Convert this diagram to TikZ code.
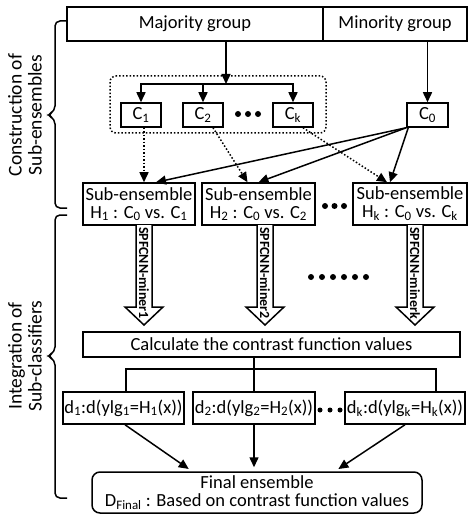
\documentclass[tikz,border=0pt]{standalone}
\usepackage{fontspec}
\setmainfont{Carlito}
\usetikzlibrary{arrows.meta}
\newcommand{\lo}[1]{\textsubscript{#1}}
\tikzset{
  box/.style={draw, line width=1.5pt, inner sep=0pt, align=center,
    font=\fontsize{18.5}{18}\selectfont},
  arr/.style={line width=1.5pt, -{Triangle[length=10pt,width=9pt]}},
  dotarr/.style={arr, dotted},
  hollow/.style={draw, line width=1.5pt, fill=white},
  miner/.style={rotate=-90, inner sep=0pt, font=\fontsize{14}{14}\bfseries},
  grpbrace/.style={line width=1.5pt, rounded corners=5pt},
  side/.style={rotate=90, align=center, font=\fontsize{19.5}{20}\selectfont},
}
\begin{document}
\begin{tikzpicture}[x=1pt, y=-1pt]
\useasboundingbox (0,0) rectangle (474,521);
% groups
\node[box, minimum width=256, minimum height=34] (maj) at (195,24) {Majority group};
\node[box, minimum width=144, minimum height=34] (min) at (395,24) {Minority group};
\node[draw, dotted, line width=1.5pt, rounded corners=6pt, minimum width=216,
  minimum height=57] (grp) at (218,104.5) {};
\node[box, minimum width=40, minimum height=24] (c1) at (141,115) {C\lo{1}};
\node[box, minimum width=40, minimum height=24] (c2) at (203,115) {C\lo{2}};
\node[box, minimum width=40, minimum height=24] (ck) at (293,115) {C\lo{k}};
\node[box, minimum width=41, minimum height=24] (c0) at (427.5,115) {C\lo{0}};
\foreach \x in {238,248,258} \fill (\x,114) circle (3);
\coordinate (split) at (226,84);
\draw[arr] (maj.south -| split) -- (split);
\draw[arr] (split) -| (c1.north);
\draw[arr] (split) -| (ck.north);
\draw[arr] (c2.north |- split) -- (c2.north);
\draw[arr] (min.south -| c0.north) -- (c0.north);
% sub-ensembles
\node[box, minimum width=112, minimum height=42] (h1) at (139,204)
  {Sub-ensemble\\H\lo{1} : C\lo{0} vs. C\lo{1}};
\node[box, minimum width=113, minimum height=42] (h2) at (258.5,204)
  {Sub-ensemble\\H\lo{2} : C\lo{0} vs. C\lo{2}};
\node[box, minimum width=114, minimum height=42] (hk) at (410,204)
  {Sub-ensemble\\H\lo{k} : C\lo{0} vs. C\lo{k}};
\foreach \x in {325,334.5,344} \fill (\x,206) circle (3);
\draw[dotarr] ([xshift=3pt]c1.south) -- ([xshift=5pt]h1.north);
\draw[dotarr] ([xshift=10pt]c2.south) -- ([xshift=-11pt]h2.north);
\draw[dotarr] ([xshift=10pt]ck.south) -- ([xshift=-23pt]hk.north);
\draw[arr] (c0.south west) -- ([xshift=17pt]h1.north);
\draw[arr] (c0.south west) -- (h2.north);
\draw[arr] ([xshift=2pt]c0.south west) -- ([xshift=-20pt]hk.north);
% miners
\foreach \x/\n in {144/1,265/2,415/k} {
  \draw[hollow] (\x-8,225) -- (\x-8,307) -- (\x-19,307) -- (\x,325)
    -- (\x+19,307) -- (\x+8,307) -- (\x+8,225);
  \node[miner] (m\n) at (\x,273) {SPFCNN-miner\n};
}
\foreach \x in {0,...,5} \fill (311+11*\x,277) circle (3);
% contrast values
\node[box, minimum width=377, minimum height=25] (calc) at (271.5,344.5)
  {Calculate the contrast function values};
\node[box, minimum width=121, minimum height=32] (d1) at (123.5,408)
  {d\lo{1}:d(ylg\lo{1}=H\lo{1}(x))};
\node[box, minimum width=122, minimum height=32] (d2) at (254,408)
  {d\lo{2}:d(ylg\lo{2}=H\lo{2}(x))};
\node[box, minimum width=120, minimum height=32] (dk) at (405,408)
  {d\lo{k}:d(ylg\lo{k}=H\lo{k}(x))};
\foreach \x in {320,330,340} \fill (\x,410) circle (2.5);
\coordinate (fork) at (254,369);
\draw[line width=1.5pt] (calc.south -| fork) -- (fork);
\draw[line width=1.5pt] ([xshift=2.5pt]d1.north) |- (fork) -| ([xshift=31pt]dk.north);
\draw[line width=1.5pt] (fork) -- (d2.north);
% final
\node[box, rounded corners=8pt, minimum width=330, minimum height=41] (final) at (257,492.5)
  {Final ensemble\\D\lo{Final} : Based on contrast function values};
\draw[arr, shorten >=4pt] ([xshift=1.5pt]d1.south) -- ([xshift=-65pt]final.north);
\draw[arr, shorten >=4pt] (d2.south) -- ([xshift=-3pt]final.north);
\draw[arr, shorten >=4pt] (dk.south) -- ([xshift=78pt]final.north);
% stages
\draw[grpbrace] (67,21) -- (55,21) -- (55,111) -- (47,115) -- (55,119) -- (55,208) -- (67,208);
\draw[grpbrace] (67,215) -- (55,215) -- (55,352) -- (47,356) -- (55,360) -- (55,498) -- (67,498);
\node[side] (stage1) at (25,115) {Construction of\\Sub-ensembles};
\node[side] (stage2) at (25,356) {Integration of\\Sub-classifiers};
\end{tikzpicture}
\end{document}
